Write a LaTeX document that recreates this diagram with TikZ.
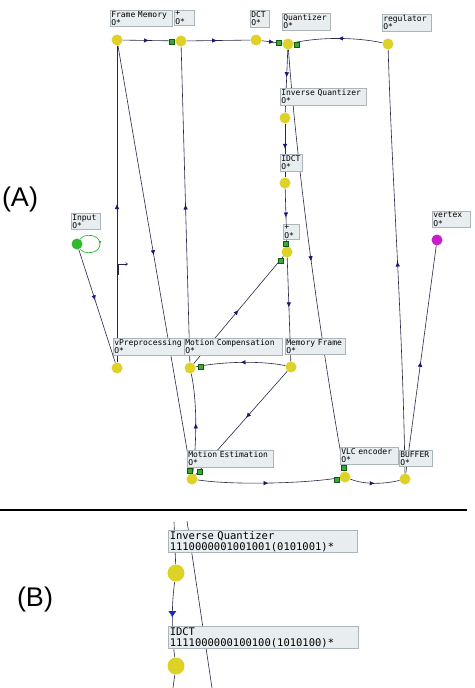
\documentclass[tikz,border=0pt]{standalone}
\usepackage{fontspec}
\setmonofont{DejaVu Sans Mono}
\setsansfont{Liberation Sans}
\usetikzlibrary{decorations.markings,arrows.meta}
\definecolor{edgec}{RGB}{40,40,70}
\definecolor{arrc}{RGB}{25,25,110}
\definecolor{arrb}{RGB}{30,40,180}
\definecolor{nodey}{RGB}{222,210,40}
\definecolor{lblfill}{RGB}{232,238,240}
\definecolor{lbldraw}{RGB}{170,180,185}
\definecolor{portg}{RGB}{60,165,60}
\definecolor{portd}{RGB}{20,90,20}
\definecolor{inputg}{RGB}{50,185,50}
\definecolor{vmag}{RGB}{200,30,200}
\pgfdeclarelayer{bg}
\pgfdeclarelayer{edges}
\pgfsetlayers{bg,edges,main}
\begin{document}
\begin{tikzpicture}[x=1pt,y=-1pt,
  edge/.style={draw=edgec,line width=0.6pt},
  arr/.style={postaction={decorate},decoration={markings,mark=at position #1 with {\arrow{Latex[length=5pt,width=4.5pt,color=arrc]}}}},
  arrbig/.style={postaction={decorate},decoration={markings,mark=at position #1 with {\arrow{Latex[length=6pt,width=8pt,color=arrb]}}}},
  ball/.style={circle,fill=nodey,minimum size=11pt,inner sep=0pt},
  ballbig/.style={circle,fill=nodey,minimum size=17pt,inner sep=0pt},
  lbl/.style={draw=lbldraw,fill=lblfill,line width=0.5pt,inner xsep=1pt,inner ysep=1pt,align=left,anchor=north west,font=\ttfamily\fontsize{8}{8.5}\selectfont},
  lblbig/.style={draw=lbldraw,fill=lblfill,line width=0.5pt,inner xsep=1.5pt,inner ysep=1pt,align=left,anchor=north west,font=\ttfamily\fontsize{10.5}{11}\selectfont},
  port/.style={rectangle,draw=portd,fill=portg,minimum size=5pt,inner sep=0pt,line width=0.5pt}
]
\begin{pgfonlayer}{bg}
\fill[white] (0,0) rectangle (474,688);
\end{pgfonlayer}
\useasboundingbox (0,0) rectangle (474,688);

% ---------- nodes (A)
\node[ball] (FM) at (117,40) {};
\node[ball] (P1) at (181,41) {};
\node[ball] (DCT) at (256,40) {};
\node[ball] (Q) at (288,44) {};
\node[ball] (REG) at (388,44) {};
\node[ball] (IQ) at (285,118) {};
\node[ball] (IDCT) at (285,183) {};
\node[ball] (P2) at (287,252) {};
\node[ball,fill=inputg] (IN) at (77,244) {};
\node[ball,fill=vmag] (VX) at (437,240) {};
\node[ball] (VP) at (117,368) {};
\node[ball] (MC) at (190,368) {};
\node[ball] (MF) at (291,367) {};
\node[ball] (ME) at (192,479) {};
\node[ball] (VLC) at (345,477) {};
\node[ball] (BUF) at (405,479) {};

% labels
\node[lbl,text width=60pt] (lFM) at (110,10) {Frame Memory\\O*};
\node[lbl,text width=18pt] (lP1) at (174,10) {+\\O*};
\node[lbl,text width=17pt] (lDCT) at (250,10) {DCT\\O*};
\node[lbl,text width=46pt] (lQ) at (282,13) {Quantizer\\O*};
\node[lbl,text width=47pt] (lREG) at (382,14) {regulator\\O*};
\node[lbl,text width=84pt] (lIQ) at (280,88) {Inverse Quantizer\\O*};
\node[lbl,text width=20pt] (lIDCT) at (280,154) {IDCT\\O*};
\node[lbl,text width=14pt] (lP2) at (283,224) {+\\O*};
\node[lbl,text width=27pt] (lIN) at (71,213) {Input\\O*};
\node[lbl,text width=36pt] (lVX) at (432,211) {vertex\\O*};
\node[lbl,text width=69pt] (lVP) at (113,338) {vPreprocessing\\O*};
\node[lbl,text width=96pt] (lMC) at (184,338) {Motion Compensation\\O*};
\node[lbl,text width=58pt] (lMF) at (285,338) {Memory Frame\\O*};
\node[lbl,text width=84pt] (lME) at (187,450) {Motion Estimation\\O*};
\node[lbl,text width=56pt] (lVLC) at (340,447) {VLC encoder\\O*};
\node[lbl,text width=31pt] (lBUF) at (399,450) {BUFFER\\O*};

% ---------- edges (A)
\begin{pgfonlayer}{edges}
\draw[edge,arr=0.5] (FM) -- (P1);
\draw[edge,arr=0.48] (P1) -- (DCT);
\draw[edge,arr=0.6] (DCT) -- (Q);
\draw[edge,arr=0.5] (REG) .. controls (355,37) and (320,37) .. (Q);
\draw[edge,arr=0.44] (Q) -- (IQ);
\draw[edge,arr=0.47] (IQ) -- (IDCT);
\draw[edge,arr=0.5] (IDCT) -- (P2);
\draw[edge,arr=0.48] (P2) -- (MF);
\draw[edge,arr=0.5] (Q) .. controls (298,180) and (322,350) .. (VLC);
\draw[edge,arr=0.5] (BUF) .. controls (403,330) and (392,180) .. (REG);
\draw[edge,arr=0.49] (BUF) -- (VX);
\draw[edge,arr=0.5] (ME) .. controls (230,485) and (300,484) .. (VLC);
\draw[edge,arr=0.5] (VLC) .. controls (365,485) and (385,484) .. (BUF);
\draw[edge,arr=0.5] (MF) .. controls (265,361) and (225,361) .. (MC);
\draw[edge,arr=0.45] (MF) -- (ME);
\draw[edge,arr=0.5] (ME) .. controls (197,440) and (197,400) .. (MC);
\draw[edge,arr=0.5] (MC) -- (P2);
\draw[edge,arr=0.5] (MC) -- (P1);
\draw[edge,arr=0.5] (VP) -- (FM);
\draw[edge,arr=0.49] (FM) -- (ME);
\draw[edge,arr=0.45] (IN) -- (VP);
% input self loop
\draw[draw=inputg,line width=0.7pt,postaction={decorate},decoration={markings,mark=at position 0.5 with {\arrow{Latex[length=3pt,width=3pt,color=inputg]}}}]
  (IN) .. controls (84,233) and (100,234) .. (100,244) .. controls (100,254) and (84,255) .. (IN);
\end{pgfonlayer}

% small bent arrow glyph
\draw[edgec,line width=0.6pt,-{Straight Barb[length=2pt,width=3pt]}] (118,275) -- (118,264) -- (128,264);

% ports
\node[port] (pP1) at (172,42) {};
\node[port] (pQa) at (279,43) {};
\node[port] (pQb) at (297,45) {};
\node[port] (pP2a) at (286,244) {};
\node[port] (pP2b) at (281,261) {};
\node[port] (pMC) at (201,367) {};
\node[port] (pMEa) at (190,471) {};
\node[port] (pMEb) at (200,472) {};
\node[port] (pVLCa) at (344,468) {};
\node[port] (pVLCb) at (337,480) {};

% titles
\node[font=\sffamily\fontsize{27}{27}\selectfont,inner sep=0pt] (tA) at (20,200) {(A)};
\node[font=\sffamily\fontsize{27}{27}\selectfont,inner sep=0pt] (tB) at (35,600) {(B)};

% divider
\draw[black,line width=2pt] (0,510) -- (467,510);

% ---------- (B)
\node[lblbig,text width=186pt] (lIQb) at (168,530) {Inverse Quantizer\\1110000001001001(0101001)*};
\node[ballbig] (IQb) at (176,573) {};
\node[lblbig,text width=187pt] (lIDCTb) at (168,626) {IDCT\\1111000000100100(1010100)*};
\node[ballbig] (IDCTb) at (176,666) {};
\coordinate (bTopA) at (174,522);
\coordinate (bTopB) at (187,521);
\coordinate (bBotA) at (173,688);
\coordinate (bBotB) at (212,688);
\begin{pgfonlayer}{edges}
\draw[edge] (bTopA) -- (IQb);
\draw[edge] (bTopB) -- (bBotB);
\draw[edge,arrbig=0.47] (IQb) .. controls (172,600) and (171,630) .. (IDCTb);
\draw[edge] (IDCTb) -- (bBotA);
\end{pgfonlayer}
\end{tikzpicture}
\end{document}
